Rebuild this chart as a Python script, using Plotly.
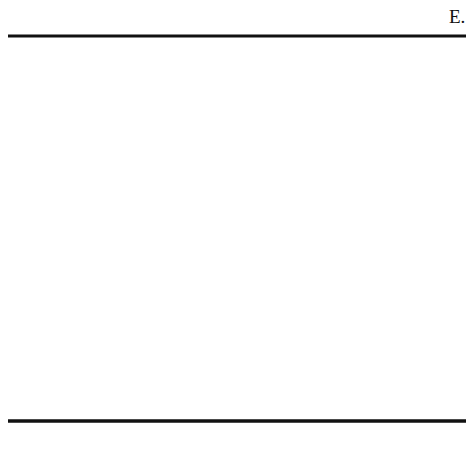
import plotly.graph_objects as go

# visible (cropped) row labels of the table, top to bottom
row_labels = [
    "te analysis<sup><i>a</i></sup> (%)",
    "ure",
    "",
    "le matter",
    "rbon<sup><i>b</i></sup>",
    " analysis<sup><i>a</i></sup> (%)",
    "n",
    "gen",
    "en<sup><i>b</i></sup>",
    "gen",
    ".",
    "ent analysis<sup><i>a</i></sup> (%)",
    "cellulose",
    "n",
    "ose",
]
header_left = "<i>ers</i>"
header_right = "E."
footnotes = ["ght percentage on dry basis.", "culated by difference."]

FONT = dict(family="Liberation Serif, Times New Roman, serif", size=19, color="#111")

row_y = [49 + i * 24.45 for i in range(len(row_labels))]
foot_y = [440, 461]

fig = go.Figure()
fig.add_trace(go.Scatter(x=[-7] * len(row_labels), y=row_y, text=row_labels,
                         mode="text", textposition="middle right",
                         textfont=FONT, hoverinfo="skip", cliponaxis=False))
fig.add_trace(go.Scatter(x=[-7, -7], y=foot_y, text=footnotes, mode="text",
                         textposition="middle right", textfont=FONT,
                         hoverinfo="skip", cliponaxis=False))
fig.add_trace(go.Scatter(x=[-7, 441], y=[10, 10], text=[header_left, header_right],
                         mode="text", textposition="middle right",
                         textfont=FONT, hoverinfo="skip", cliponaxis=False))

for y, w in [(28, 3), (413, 3.5)]:
    fig.add_shape(type="line", xref="paper", x0=0, x1=1, y0=y, y1=y,
                  line=dict(color="#111", width=w))

fig.update_layout(
    width=474, height=474, margin=dict(l=0, r=0, t=0, b=0),
    paper_bgcolor="white", plot_bgcolor="white", showlegend=False,
    xaxis=dict(range=[0, 474], visible=False, fixedrange=True),
    yaxis=dict(range=[474, 0], visible=False, fixedrange=True),
)
fig.write_html("out.html", config={"displayModeBar": False})
